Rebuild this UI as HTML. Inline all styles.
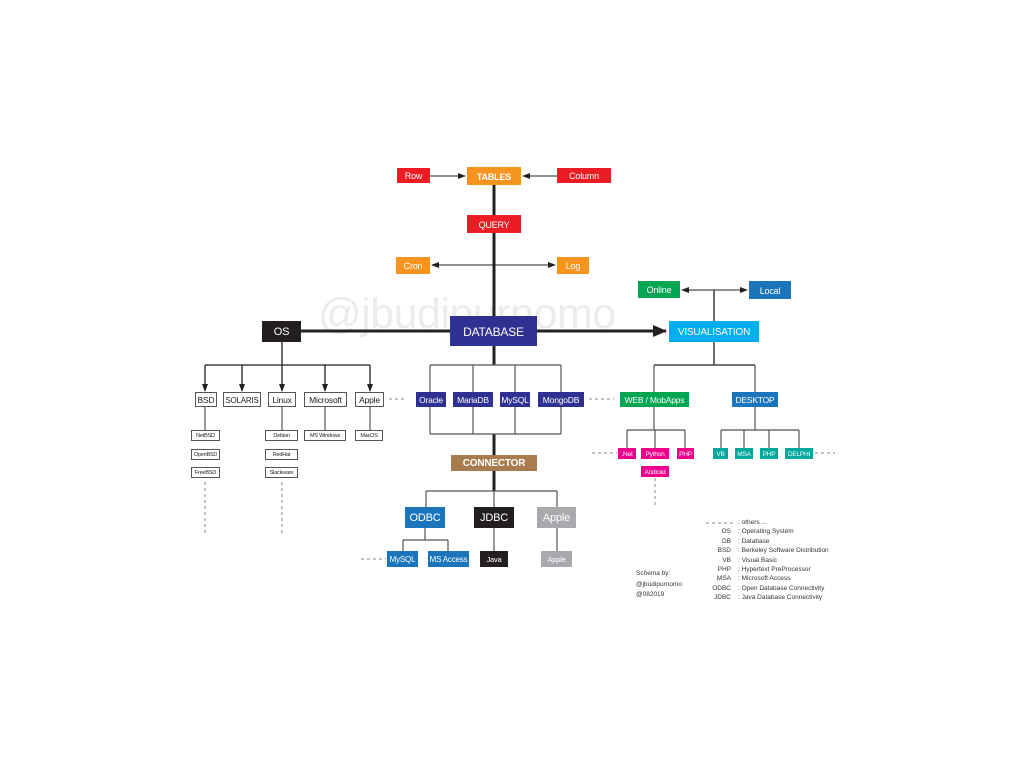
<!DOCTYPE html><html><head><style>
body{margin:0;width:1024px;height:768px;background:#fff;position:relative;overflow:hidden;font-family:"Liberation Sans",sans-serif}
.b{position:absolute;display:flex;align-items:center;justify-content:center;color:#fff;font-size:9px;box-sizing:border-box;white-space:nowrap;letter-spacing:-0.2px;padding-top:1px}
.w{background:#fff;color:#222;border:1px solid #555;font-size:8.5px}
.s{background:#fff;color:#222;border:1px solid #555;font-size:5.5px}
.t{position:absolute;font-size:6.5px;color:#333;white-space:nowrap}
</style></head><body>
<div style="position:absolute;left:318px;top:290px;font-size:43px;color:#ececec;letter-spacing:-0.5px">@jbudipurnomo</div>
<svg width="1024" height="768" style="position:absolute;left:0;top:0">
<defs><marker id="a" markerWidth="8" markerHeight="8" refX="7" refY="4" orient="auto" markerUnits="userSpaceOnUse"><path d="M0,1 L8,4 L0,7z" fill="#222"/></marker>
<marker id="A" markerWidth="14" markerHeight="12" refX="13" refY="6" orient="auto" markerUnits="userSpaceOnUse"><path d="M0,0 L14,6 L0,12z" fill="#222"/></marker></defs>
<g stroke="#222" fill="none">
<path d="M494 185V316M494 346V365M494 434V455M494 471V491" stroke-width="3"/>
<path d="M301 331H450" stroke-width="3"/>
<path d="M537 331H666" stroke-width="3" marker-end="url(#A)"/>
<g stroke-width="1" marker-end="url(#a)">
<path d="M430 176H465"/><path d="M557 176H523"/><path d="M494 265H432"/><path d="M494 265H555"/><path d="M714 290H682"/><path d="M714 290H747"/>
</g>
<path d="M714 290V321" stroke-width="1.3"/>
<path d="M282 342V365M205 365H370M714 342V365M654 365H755" stroke-width="1.3"/>
<g stroke-width="1.3" marker-end="url(#a)">
<path d="M205 365V391"/><path d="M242 365V391"/><path d="M282 365V391"/><path d="M325 365V391"/><path d="M370 365V391"/>
</g>
<g stroke="#555" stroke-width="1.2">
<path d="M430 365H561M430 365V392M473 365V392M515 365V392M561 365V392M430 407V434M473 407V434M515 407V434M561 407V434M430 434H561"/>
<path d="M426 491H557M426 491V507M494 491V507M557 491V507M425 528V540M403 540H448M403 540V551M448 540V551M494 528V551M557 528V551"/>
<path d="M654 365V392M755 365V392M654 407V430M627 430H685M627 430V448M655 430V448M685 430V448M755 407V430M721 430H799M721 430V448M744 430V448M769 430V448M799 430V448"/>
<path d="M205 407V430M282 407V430M325 407V430M370 407V430"/>
</g>
<g stroke="#888" stroke-width="1" stroke-dasharray="3,3">
<path d="M205 482V533M282 482V533M655 478V508M592 453H617M815 453H835M389 399H405M589 399H614M361 559H386M706 523H734"/>
</g></g></svg>
<div class="b" style="left:397px;top:168px;width:33px;height:15px;background:#ec1c24">Row</div>
<div class="b" style="left:467px;top:167px;width:54px;height:18px;background:#f7941d;font-weight:bold">TABLES</div>
<div class="b" style="left:557px;top:168px;width:54px;height:15px;background:#ec1c24">Column</div>
<div class="b" style="left:467px;top:215px;width:54px;height:18px;background:#ec1c24">QUERY</div>
<div class="b" style="left:396px;top:257px;width:34px;height:17px;background:#f7941d">Cron</div>
<div class="b" style="left:557px;top:257px;width:32px;height:17px;background:#f7941d">Log</div>
<div class="b" style="left:450px;top:316px;width:87px;height:30px;background:#2e3192;font-size:12px">DATABASE</div>
<div class="b" style="left:262px;top:321px;width:39px;height:21px;background:#231f20;font-size:11px">OS</div>
<div class="b" style="left:669px;top:321px;width:90px;height:21px;background:#00aeef;font-size:10px">VISUALISATION</div>
<div class="b" style="left:638px;top:281px;width:42px;height:17px;background:#00a651">Online</div>
<div class="b" style="left:749px;top:281px;width:42px;height:18px;background:#1b75bc">Local</div>
<div class="b w" style="left:195px;top:392px;width:22px;height:15px">BSD</div>
<div class="b w" style="left:223px;top:392px;width:38px;height:15px;font-size:8px">SOLARIS</div>
<div class="b w" style="left:268px;top:392px;width:28px;height:15px">Linux</div>
<div class="b w" style="left:304px;top:392px;width:43px;height:15px">Microsoft</div>
<div class="b w" style="left:355px;top:392px;width:29px;height:15px">Apple</div>
<div class="b s" style="left:191px;top:430px;width:29px;height:11px">NetBSD</div>
<div class="b s" style="left:191px;top:449px;width:29px;height:11px">OpenBSD</div>
<div class="b s" style="left:191px;top:467px;width:29px;height:11px">FreeBSD</div>
<div class="b s" style="left:265px;top:430px;width:33px;height:11px">Debian</div>
<div class="b s" style="left:265px;top:449px;width:33px;height:11px">RedHat</div>
<div class="b s" style="left:265px;top:467px;width:33px;height:11px">Slackware</div>
<div class="b s" style="left:304px;top:430px;width:42px;height:11px">MS Windows</div>
<div class="b s" style="left:355px;top:430px;width:28px;height:11px">MacOS</div>
<div class="b" style="left:416px;top:392px;width:30px;height:15px;background:#2e3192;font-size:8.5px">Oracle</div>
<div class="b" style="left:453px;top:392px;width:40px;height:15px;background:#2e3192;font-size:8.5px">MariaDB</div>
<div class="b" style="left:500px;top:392px;width:30px;height:15px;background:#2e3192;font-size:8.5px">MySQL</div>
<div class="b" style="left:538px;top:392px;width:46px;height:15px;background:#2e3192;font-size:8.5px">MongoDB</div>
<div class="b" style="left:451px;top:455px;width:86px;height:16px;background:#a97c50;font-weight:bold;font-size:10px">CONNECTOR</div>
<div class="b" style="left:405px;top:507px;width:40px;height:21px;background:#1b75bc;font-size:11px">ODBC</div>
<div class="b" style="left:474px;top:507px;width:40px;height:21px;background:#231f20;font-size:11px">JDBC</div>
<div class="b" style="left:537px;top:507px;width:39px;height:21px;background:#a7a9ac;font-size:11px">Apple</div>
<div class="b" style="left:387px;top:551px;width:31px;height:16px;background:#1b75bc;font-size:8px">MySQL</div>
<div class="b" style="left:428px;top:551px;width:41px;height:16px;background:#1b75bc;font-size:8px">MS Access</div>
<div class="b" style="left:480px;top:551px;width:28px;height:16px;background:#231f20;font-size:7.5px">Java</div>
<div class="b" style="left:541px;top:551px;width:31px;height:16px;background:#a7a9ac;font-size:7.5px">Apple</div>
<div class="b" style="left:620px;top:392px;width:69px;height:15px;background:#00a651;font-size:8.5px">WEB / MobApps</div>
<div class="b" style="left:732px;top:392px;width:46px;height:15px;background:#1b75bc;font-size:8.5px">DESKTOP</div>
<div class="b" style="left:618px;top:448px;width:18px;height:11px;background:#ec008c;font-size:6.5px">.Net</div>
<div class="b" style="left:641px;top:448px;width:28px;height:11px;background:#ec008c;font-size:6.5px">Python</div>
<div class="b" style="left:677px;top:448px;width:17px;height:11px;background:#ec008c;font-size:6.5px">PHP</div>
<div class="b" style="left:641px;top:466px;width:28px;height:11px;background:#ec008c;font-size:6.5px">Android</div>
<div class="b" style="left:713px;top:448px;width:15px;height:11px;background:#00a79d;font-size:6.5px">VB</div>
<div class="b" style="left:735px;top:448px;width:18px;height:11px;background:#00a79d;font-size:6.5px">MSA</div>
<div class="b" style="left:760px;top:448px;width:18px;height:11px;background:#00a79d;font-size:6.5px">PHP</div>
<div class="b" style="left:785px;top:448px;width:28px;height:11px;background:#00a79d;font-size:6.5px">DELPHI</div>
<div class="t" style="left:636px;top:569px;line-height:10.5px">Schema by:<br>@jbudipurnomo<br>@082019</div>
<div class="t" style="left:700px;top:518px;width:31px;text-align:right;line-height:9.4px">&nbsp;<br>OS<br>DB<br>BSD<br>VB<br>PHP<br>MSA<br>ODBC<br>JDBC</div>
<div class="t" style="left:738px;top:518px;line-height:9.4px">: others ...<br>: Operating System<br>: Database<br>: Berkeley Software Distribution<br>: Visual Basic<br>: Hypertext PreProcessor<br>: Microsoft Access<br>: Open Database Connectivity<br>: Java Database Connectivity</div>
</body></html>
